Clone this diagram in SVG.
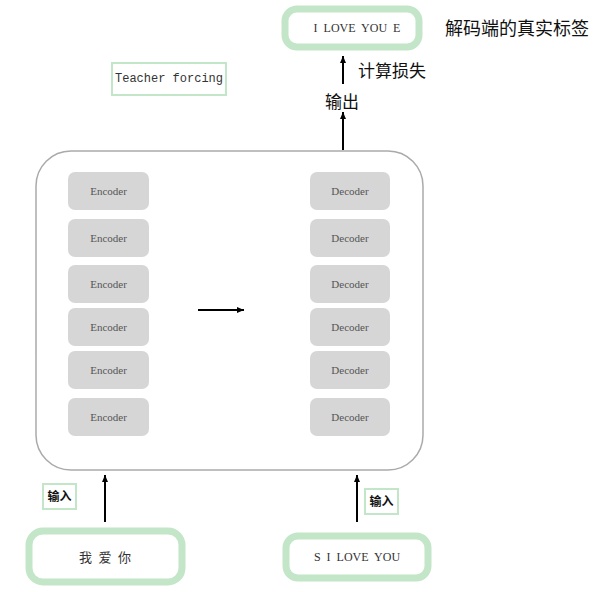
<svg xmlns="http://www.w3.org/2000/svg" width="600" height="592" viewBox="0 0 600 592">
<defs>
<marker id="ah" markerWidth="8" markerHeight="8" refX="7" refY="4" orient="auto" markerUnits="userSpaceOnUse"><path d="M0,1 L7,4 L0,7 z" fill="#000"/></marker>
<style>
.t{font-family:"Liberation Serif","Noto Sans CJK SC",serif;fill:#333;text-anchor:middle;dominant-baseline:central}
.blk{fill:#d6d6d6;stroke:none}
.bt{font-family:"Liberation Serif",serif;font-size:11px;fill:#555;text-anchor:middle;dominant-baseline:central}
.gb{fill:#fff;stroke:#c3e6c8;stroke-width:7}
.lb{fill:#fff;stroke:#c3e6c8;stroke-width:2}
.c{stroke:#000;stroke-width:2;fill:none;marker-end:url(#ah)}
.cn{font-family:"Noto Sans CJK SC","Liberation Serif",serif;fill:#111}
</style>
</defs>
<rect width="600" height="592" fill="#fff"/>
<g id="container"><rect x="36" y="151" width="387" height="319" rx="35" fill="#fff" stroke="#aaa" stroke-width="1.5"/></g>
<g id="encoders">
<rect class="blk" x="68" y="172" width="81" height="38" rx="7"/><text class="bt" x="108.5" y="191">Encoder</text>
<rect class="blk" x="68" y="219" width="81" height="38" rx="7"/><text class="bt" x="108.5" y="238">Encoder</text>
<rect class="blk" x="68" y="265" width="81" height="38" rx="7"/><text class="bt" x="108.5" y="284">Encoder</text>
<rect class="blk" x="68" y="308" width="81" height="38" rx="7"/><text class="bt" x="108.5" y="327">Encoder</text>
<rect class="blk" x="68" y="351" width="81" height="38" rx="7"/><text class="bt" x="108.5" y="370">Encoder</text>
<rect class="blk" x="68" y="398" width="81" height="38" rx="7"/><text class="bt" x="108.5" y="417">Encoder</text>
</g>
<g id="decoders">
<rect class="blk" x="310" y="172" width="80" height="38" rx="7"/><text class="bt" x="350" y="191">Decoder</text>
<rect class="blk" x="310" y="219" width="80" height="38" rx="7"/><text class="bt" x="350" y="238">Decoder</text>
<rect class="blk" x="310" y="265" width="80" height="38" rx="7"/><text class="bt" x="350" y="284">Decoder</text>
<rect class="blk" x="310" y="308" width="80" height="38" rx="7"/><text class="bt" x="350" y="327">Decoder</text>
<rect class="blk" x="310" y="351" width="80" height="38" rx="7"/><text class="bt" x="350" y="370">Decoder</text>
<rect class="blk" x="310" y="398" width="80" height="38" rx="7"/><text class="bt" x="350" y="417">Decoder</text>
</g>
<g id="target"><rect class="gb" x="285" y="9" width="134" height="38" rx="12"/><text class="t" x="357" y="28" font-size="12" xml:space="preserve">I  LOVE  YOU  E</text></g>
<g id="teacher"><rect class="lb" x="112" y="63" width="114" height="32"/><text class="t" x="169" y="79" font-size="12" font-family="Liberation Mono,monospace" style="font-family:'Liberation Mono',monospace">Teacher forcing</text></g>
<g id="src"><rect class="gb" x="29" y="531" width="153" height="51" rx="14"/><text class="t" x="105" y="557" font-size="13" xml:space="preserve">我  爱  你</text></g>
<g id="tgtin"><rect class="gb" x="286" y="536" width="142" height="42" rx="12"/><text class="t" x="357" y="557" font-size="12" xml:space="preserve">S  I  LOVE  YOU</text></g>
<g id="labels">
<text class="cn" x="445" y="35" font-size="18">解码端的真实标签</text>
<text class="cn" x="358" y="77" font-size="17">计算损失</text>
<text class="cn" x="325" y="108" font-size="17">输出</text>
<rect class="lb" x="43" y="484" width="33" height="25"/><text class="cn" x="59.5" y="501" font-size="12" text-anchor="middle" font-weight="bold">输入</text>
<rect class="lb" x="365" y="489" width="33" height="25"/><text class="cn" x="381.5" y="506" font-size="12" text-anchor="middle" font-weight="bold">输入</text>
</g>
<g id="connectors">
<line class="c" x1="343" y1="150" x2="343" y2="112"/>
<line class="c" x1="343" y1="84" x2="343" y2="56"/>
<line class="c" x1="198" y1="310" x2="244" y2="310"/>
<line class="c" x1="105" y1="522" x2="105" y2="475"/>
<line class="c" x1="357" y1="522" x2="357" y2="475"/>
</g>
</svg>
